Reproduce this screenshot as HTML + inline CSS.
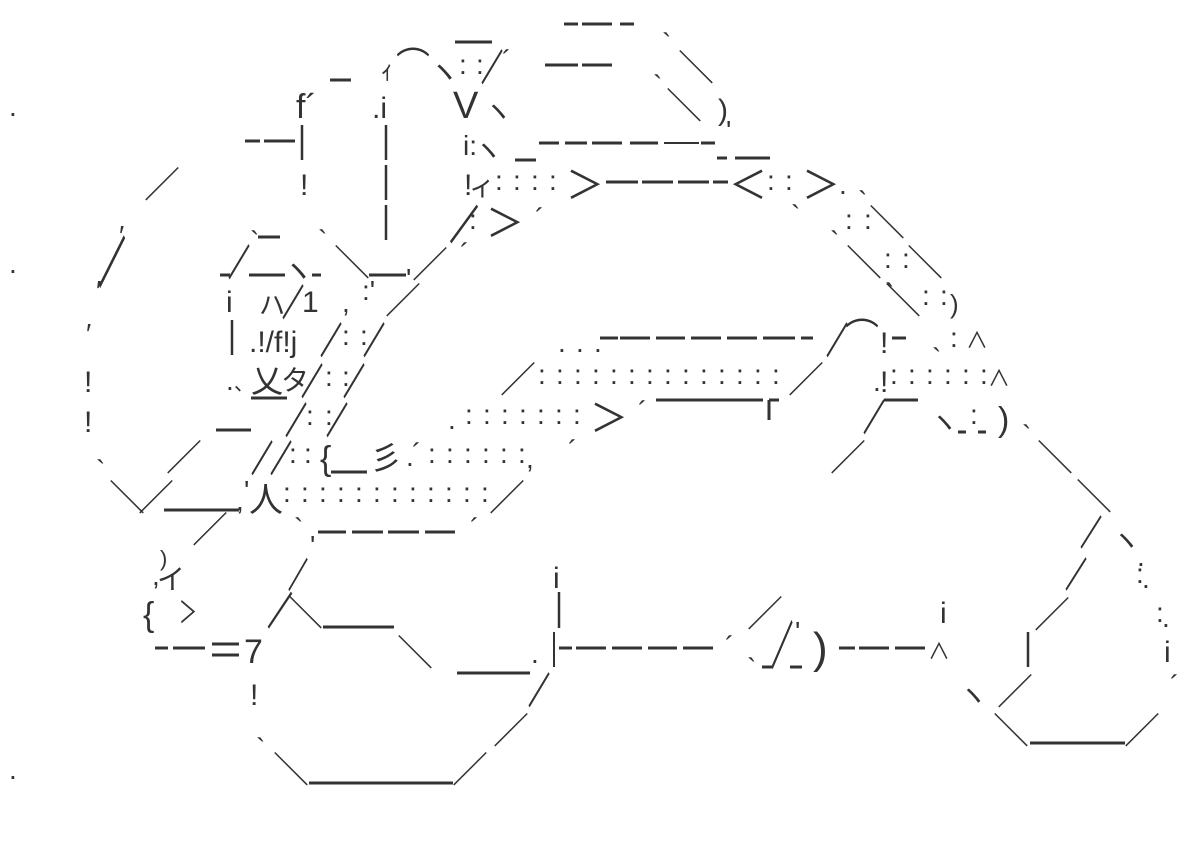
<!DOCTYPE html>
<html><head><meta charset="utf-8"><style>
html,body{margin:0;padding:0;background:#fff;}
svg{display:block;}
.j{font-family:"Noto Sans CJK JP","Liberation Sans",sans-serif;fill:#333;}
.l{font-family:"Liberation Sans","Noto Sans CJK JP",sans-serif;fill:#333;font-size:28px;}
line{stroke:#333;stroke-width:3;}
</style></head><body>
<svg width="1204" height="858" viewBox="0 0 1204 858" xmlns="http://www.w3.org/2000/svg">
<g>
<line x1="564" y1="24" x2="578" y2="24"/><line x1="582" y1="24" x2="612" y2="24"/><line x1="620" y1="24" x2="634" y2="24"/>
<line x1="455" y1="42" x2="492" y2="42"/>
<line x1="545" y1="65" x2="578" y2="65"/><line x1="582" y1="65" x2="612" y2="65"/>
<line x1="330" y1="80" x2="351" y2="80"/>
<line x1="245" y1="141" x2="260" y2="141"/><line x1="264" y1="141" x2="295" y2="141"/>
<line x1="539" y1="143" x2="559" y2="143"/><line x1="565" y1="143" x2="587" y2="143"/><line x1="592" y1="143" x2="622" y2="143"/><line x1="630" y1="143" x2="658" y2="143"/><line x1="664" y1="143" x2="699" y2="143" style="stroke-width:2"/><line x1="701" y1="143" x2="715" y2="143"/>
<line x1="717" y1="158" x2="727" y2="158"/><line x1="735" y1="158" x2="770" y2="158"/>
<line x1="515" y1="160" x2="536" y2="160"/>
<line x1="606" y1="182" x2="638" y2="182"/><line x1="642" y1="182" x2="673" y2="182"/><line x1="678" y1="182" x2="709" y2="182"/><line x1="713" y1="182" x2="728" y2="182"/>
<line x1="258" y1="237" x2="280" y2="237"/>
<line x1="220" y1="275" x2="230" y2="275"/><line x1="249" y1="275" x2="285" y2="275"/><line x1="312" y1="275" x2="321" y2="275"/><line x1="369" y1="275" x2="406" y2="275"/>
<line x1="600" y1="338" x2="618" y2="338"/><line x1="620" y1="338" x2="650" y2="338"/><line x1="656" y1="338" x2="685" y2="338"/><line x1="691" y1="338" x2="721" y2="338"/><line x1="727" y1="338" x2="757" y2="338"/><line x1="763" y1="338" x2="795" y2="338"/><line x1="801" y1="338" x2="813" y2="338"/><line x1="892" y1="338" x2="906" y2="338"/>
<line x1="251" y1="398" x2="287" y2="398"/>
<line x1="656" y1="400" x2="763" y2="400"/><line x1="769" y1="400" x2="779" y2="400"/><line x1="769" y1="400" x2="769" y2="420"/><line x1="884" y1="400" x2="918" y2="400"/>
<line x1="216" y1="430" x2="251" y2="430"/>
<line x1="958" y1="432" x2="966" y2="432"/><line x1="978" y1="432" x2="986" y2="432"/>
<line x1="331" y1="472" x2="367" y2="472"/>
<line x1="164" y1="510" x2="239" y2="510"/>
<line x1="318" y1="532" x2="346" y2="532"/><line x1="352" y1="532" x2="383" y2="532"/><line x1="388" y1="532" x2="419" y2="532"/><line x1="425" y1="532" x2="455" y2="532"/>
<line x1="323" y1="627" x2="394" y2="627"/>
<line x1="155" y1="648" x2="168" y2="648"/><line x1="173" y1="648" x2="205" y2="648"/>
<line x1="212" y1="644" x2="239" y2="644"/><line x1="212" y1="655" x2="239" y2="655"/>
<line x1="559" y1="648" x2="572" y2="648"/><line x1="576" y1="648" x2="606" y2="648"/><line x1="612" y1="648" x2="642" y2="648"/><line x1="648" y1="648" x2="677" y2="648"/><line x1="683" y1="648" x2="713" y2="648"/>
<line x1="839" y1="648" x2="855" y2="648"/><line x1="859" y1="648" x2="889" y2="648"/><line x1="895" y1="648" x2="925" y2="648"/>
<line x1="762" y1="667" x2="772" y2="667"/><line x1="790" y1="667" x2="802" y2="667"/>
<line x1="457" y1="673" x2="530" y2="673"/>
<line x1="1030" y1="743" x2="1125" y2="743"/>
<line x1="309" y1="783" x2="453" y2="783"/>
<line x1="302" y1="125" x2="302" y2="160" style="stroke-width:2.5"/>
<line x1="386" y1="125" x2="386" y2="160" style="stroke-width:2.5"/>
<line x1="386" y1="165" x2="386" y2="200" style="stroke-width:2.5"/>
<line x1="386" y1="205" x2="386" y2="240" style="stroke-width:2.5"/>
<line x1="232" y1="320" x2="232" y2="355" style="stroke-width:2.5"/>
<line x1="559" y1="592" x2="559" y2="628" style="stroke-width:2.5"/>
<line x1="554" y1="632" x2="554" y2="667" style="stroke-width:2"/>
<line x1="1028" y1="632" x2="1028" y2="667" style="stroke-width:2.5"/>
</g>

<g class="j" font-size="36" text-anchor="middle" dominant-baseline="central">
<text x="162" y="182">／</text>
<text x="430" y="262">／</text>
<text x="403" y="298">／</text>
<text x="518" y="377">／</text>
<text x="806" y="377">／</text>
<text x="184" y="455">／</text>
<text x="156" y="495">／</text>
<text x="507" y="495">／</text>
<text x="848" y="455">／</text>
<text x="210" y="527">／</text>
<text x="765" y="611">／</text>
<text x="1052" y="612">／</text>
<text x="1015" y="689">／</text>
<text x="1142" y="728">／</text>
<text x="511" y="728">／</text>
<text x="470" y="767">／</text>
<text x="696" y="65">＼</text>
<text x="684" y="103">＼</text>
<text x="352" y="260">＼</text>
<text x="887" y="220">＼</text>
<text x="864" y="260">＼</text>
<text x="925" y="260">＼</text>
<text x="903" y="298">＼</text>
<text x="127" y="495">＼</text>
<text x="1055" y="455">＼</text>
<text x="1094" y="494">＼</text>
<text x="305" y="610">＼</text>
<text x="415" y="650">＼</text>
<text x="1011" y="728">＼</text>
<text x="291" y="767">＼</text>
<text x="505" y="220" font-size="38">＞</text>
<text x="585" y="182" font-size="38">＞</text>
<text x="609" y="415" font-size="38">＞</text>
<text x="821" y="182" font-size="38">＞</text>
<text x="748" y="182" font-size="38">＜</text>
</g>

<g class="j" font-size="36" text-anchor="middle" dominant-baseline="central" stroke="#333" stroke-width="1.2">
<text transform="translate(492,65) scale(0.6,1)">／</text>
<text transform="translate(239,260) scale(0.6,1)">／</text>
<text transform="translate(293,300) scale(0.6,1)">／</text>
<text transform="translate(331,338) scale(0.6,1)">／</text>
<text transform="translate(374,338) scale(0.6,1)">／</text>
<text transform="translate(312,379) scale(0.6,1)">／</text>
<text transform="translate(354,379) scale(0.6,1)">／</text>
<text transform="translate(296,418) scale(0.6,1)">／</text>
<text transform="translate(337,418) scale(0.6,1)">／</text>
<text transform="translate(262,456) scale(0.6,1)">／</text>
<text transform="translate(281,456) scale(0.6,1)">／</text>
<text transform="translate(464,222) scale(0.8,1.1)">／</text>
<text transform="translate(112,259) scale(0.75,1.5)">／</text>
<text transform="translate(837,338) scale(0.6,1)">／</text>
<text transform="translate(874,415) scale(0.6,1)">／</text>
<text transform="translate(1091,531) scale(0.6,0.95)">／</text>
<text transform="translate(1076,573) scale(0.6,0.95)">／</text>
<text transform="translate(280,609) scale(0.7,1.05)">／</text>
<text transform="translate(298,574) scale(0.55,0.95)">／</text>
<text transform="translate(782,643) scale(0.6,1.4)">／</text>
<text transform="translate(539,688) scale(0.6,1)">／</text>
</g>

<g class="j" text-anchor="middle" dominant-baseline="central">
<text x="387" y="69" font-size="26">ｨ</text>
<text x="413" y="62" font-size="34">⌒</text>
<text x="862" y="333" font-size="34">⌒</text>
<text x="444" y="70" font-size="32">ヽ</text>
<text x="498" y="109" font-size="30">ヽ</text>
<text x="488" y="148" font-size="30">ヽ</text>
<text x="298" y="269" font-size="32">ヽ</text>
<text x="944" y="420" font-size="30">ヽ</text>
<text x="1126" y="538" font-size="30">ヽ</text>
<text x="973" y="693" font-size="30">ヽ</text>
<text x="482" y="185" font-size="26">ィ</text>
<text x="272" y="304" font-size="26">ハ</text>
<text x="267" y="379" font-size="32">乂</text>
<text x="295" y="379" font-size="28">タ</text>
<text x="266" y="497" font-size="34">人</text>
<text x="386" y="456" font-size="32">彡</text>
<text x="171" y="578" font-size="28">イ</text>
<text x="977" y="339" font-size="22">∧</text>
<text x="999" y="377" font-size="22">∧</text>
<text x="939" y="650" font-size="22">∧</text>
<text transform="translate(188,611) scale(0.6,1)" font-size="30">＞</text>
</g>

<g class="l">
<text x="9" y="116">.</text><text x="9" y="273">.</text><text x="9" y="779">.</text>
<text x="662" y="53">`</text><text x="653" y="95">`</text><text x="250" y="251">`</text><text x="318" y="250">`</text>
<text x="858" y="211">`</text><text x="791" y="225">`</text><text x="830" y="251">`</text><text x="885" y="303">`</text>
<text x="1022" y="445">`</text><text x="96" y="480">`</text><text x="294" y="538">`</text><text x="256" y="758">`</text>
<text x="747" y="678">`</text><text x="932" y="368">`</text>
<text x="502" y="70">´</text><text x="535" y="228">´</text><text x="460" y="263">´</text><text x="638" y="421">´</text>
<text x="412" y="463">´</text><text x="568" y="460">´</text><text x="470" y="538">´</text><text x="725" y="656">´</text><text x="1170" y="695">´</text>
<text x="406" y="288">'</text><text x="342" y="312">,</text><text x="362" y="300">:'</text>
<text x="236" y="510">,</text><text x="244" y="500">'</text><text x="526" y="468">,</text><text x="152" y="585">,</text>
<text x="795" y="641">'</text><text x="726" y="140">'</text><text x="96" y="300">′</text><text x="86" y="343">′</text><text x="119" y="245">′</text><text x="310" y="555">'</text>
<text x="459" y="74">:</text><text x="476" y="74">:</text>
<text x="463" y="155">i:</text>
<text x="495 513 531 549" y="190">::::</text>
<text x="767 785" y="190">::</text>
<text x="845 864" y="229">::</text>
<text x="884 902" y="268">::</text>
<text x="922 940" y="305">::</text>
<text x="469" y="229">:</text>
<text x="342 360" y="345">::</text>
<text x="325 342" y="386">::</text>
<text x="306 325" y="425">::</text>
<text x="289 304" y="463">::</text>
<text x="950" y="347">:</text>
<text x="970" y="424">:</text>
<text x="1156" y="622">:</text><text x="1162" y="627">.</text>
<text x="1136" y="583">:</text><text x="1142" y="588">.</text>
<text x="538 556 574 592 610 628 646 664 682 700 718 736 754 772" y="384">::::::::::::::</text>
<text x="465 483 501 519 537 555 573" y="424">:::::::</text>
<text x="428 446 464 482 500 518" y="463">::::::</text>
<text x="283 301 319 337 355 373 391 409 427 445 463 481" y="502">::::::::::::</text>
<text x="890 908 926 944 962 980" y="384">::::::</text>
<text x="558 576 594" y="352">...</text>
<text x="448" y="429">.</text><text x="406" y="466">.</text><text x="839" y="194">.</text><text x="873" y="391">.</text>
<text x="531" y="663">.</text><text x="1137" y="566">.</text><text x="226" y="390">.</text>
<text x="234" y="390" font-size="20">、</text>
<text x="300" y="195" font-size="30">!</text>
<text x="464" y="195" font-size="30">!</text>
<text x="84" y="392" font-size="30">!</text>
<text x="84" y="432" font-size="30">!</text>
<text x="880" y="353" font-size="30">!</text>
<text x="880" y="392" font-size="30">!</text>
<text x="250" y="705" font-size="30">!</text>
<text x="372" y="118" font-size="30">.i</text>
<text x="226" y="312" font-size="30">i</text>
<text x="553" y="588" font-size="30">i</text>
<text x="940" y="623" font-size="30">i</text>
<text x="1164" y="662" font-size="30">i</text>
<text x="296" y="118" font-size="34">f´</text>
<text x="249" y="352" font-size="30">.!/f!j</text>
<text x="302" y="312" font-size="30">1</text>
<text x="244" y="663" font-size="34">7</text>
<text x="453" y="118" font-size="38" style="font-weight:normal">V</text>
<text x="718" y="120" font-size="30">)</text>
<text x="998" y="431" font-size="34">)</text>
<text x="950" y="313" font-size="26">)</text>
<text x="813" y="663" font-size="44">)</text>
<text x="143" y="626" font-size="34">{</text>
<text x="320" y="470" font-size="34">{</text>
<text x="160" y="566" font-size="22">)</text>
</g>
</svg>
</body></html>
